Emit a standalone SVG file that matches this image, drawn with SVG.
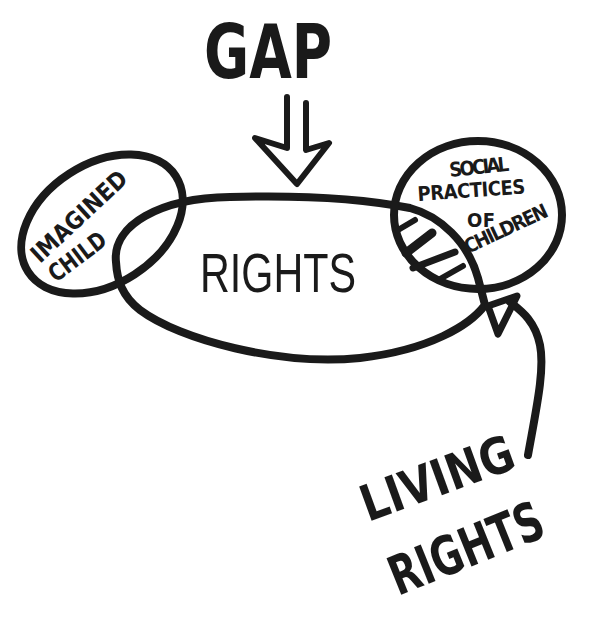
<svg xmlns="http://www.w3.org/2000/svg" width="598" height="637" viewBox="0 0 598 637">
<style>
.ink{fill:none;stroke:#1a1a1a;stroke-linecap:round;stroke-linejoin:round}
.hand{font-family:"DejaVu Sans Condensed","DejaVu Sans",sans-serif;font-weight:bold;fill:#1a1a1a}
.thin{font-family:"Liberation Sans",sans-serif;fill:#1a1a1a}
</style>
<rect width="598" height="637" fill="#fff"/>
<g id="imagined-child">
<ellipse class="ink" cx="102" cy="224" rx="88" ry="60" transform="rotate(-33 102 224)" stroke-width="8"/>
<text class="hand" font-size="24" transform="translate(40 264) rotate(-43)" textLength="122" lengthAdjust="spacingAndGlyphs">IMAGINED</text>
<text class="hand" font-size="24" transform="translate(56 283) rotate(-37)" textLength="66" lengthAdjust="spacingAndGlyphs">CHILD</text>
</g>
<g id="rights">
<path class="ink" stroke-width="8" d="M116,262 C112,225 160,198 230,197 C300,195 360,198 410,208 C440,216 468,242 478,278 L485,305 C470,325 430,350 360,358 C280,366 180,340 140,310 C122,296 117,280 116,262 Z"/>
<text class="thin" font-size="56" x="200" y="292" textLength="156" lengthAdjust="spacingAndGlyphs">RIGHTS</text>
</g>
<g id="social-practices">
<ellipse class="ink" cx="478" cy="215" rx="84" ry="74" stroke-width="8"/>
<g class="ink">
<line x1="398" y1="230" x2="415" y2="220" stroke-width="6"/>
<line x1="406" y1="253" x2="432" y2="233" stroke-width="9"/>
<line x1="413" y1="268" x2="455" y2="252" stroke-width="7"/>
<line x1="440" y1="279" x2="463" y2="266" stroke-width="6"/>
</g>
<text class="hand" font-size="20" transform="translate(450 177) rotate(-6)" textLength="60">SOCIAL</text>
<text class="hand" font-size="20" transform="translate(418 201) rotate(-4)" textLength="108">PRACTICES</text>
<text class="hand" font-size="20" x="467" y="227" textLength="28">OF</text>
<text class="hand" font-size="20" transform="translate(468 254) rotate(-25)" textLength="90">CHILDREN</text>
</g>
<g id="gap">
<text class="hand" font-size="74" x="204" y="78" textLength="128" lengthAdjust="spacingAndGlyphs">GAP</text>
</g>
<g id="living-rights">
<text class="hand" font-size="50" transform="translate(368 522) rotate(-20)" textLength="160" lengthAdjust="spacingAndGlyphs">LIVING</text>
<text class="hand" font-size="54" transform="translate(398 596) rotate(-22)" textLength="162" lengthAdjust="spacingAndGlyphs">RIGHTS</text>
</g>
<g id="connectors">
<path class="ink" stroke-width="6" d="M287,97 L287,148 L255,138 L297,184 L329,143 L306,150 L306,103"/>
<path class="ink" stroke-width="8" d="M528,455 C536,410 545,370 540,345 C535,320 520,310 510,302"/>
<path class="ink" stroke-width="7" d="M488,306 L517,296 L498,334 Z"/>
</g>
</svg>
